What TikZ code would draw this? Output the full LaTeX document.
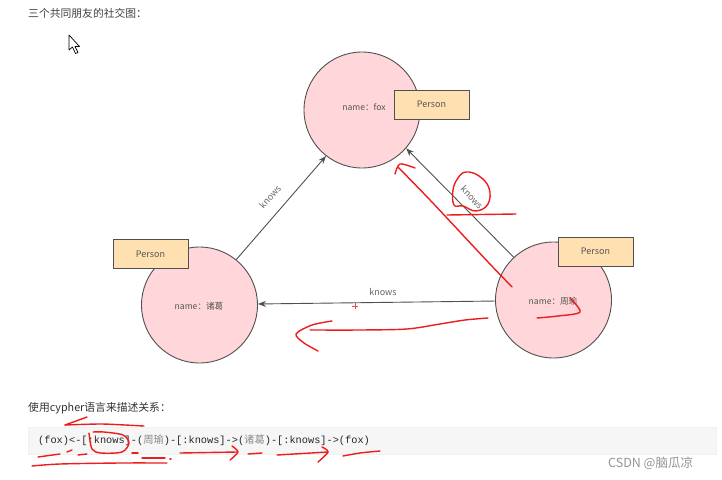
\documentclass[tikz,border=0pt]{standalone}
\usepackage{fontspec}
\setmainfont{Noto Sans CJK SC}
\newfontfamily\codefont{Liberation Mono}
\newfontfamily\cjkf{Noto Sans CJK SC}
\usetikzlibrary{arrows.meta}
\definecolor{pinkfill}{HTML}{FFD6D9}
\definecolor{peach}{HTML}{FFE0B0}
\definecolor{edgec}{HTML}{505050}
\definecolor{txtc}{HTML}{555555}
\definecolor{inkred}{HTML}{EE1C1C}
\definecolor{codebg}{HTML}{F6F6F6}
\tikzset{
  person/.style={circle, draw=edgec, fill=pinkfill, line width=0.9pt, minimum size=116pt, inner sep=0pt},
  tagbox/.style={rectangle, draw=edgec, fill=peach, line width=0.9pt, minimum width=75pt, minimum height=29pt, inner sep=0pt, font=\fontsize{9}{10}\selectfont, text=txtc},
  nametxt/.style={font=\fontsize{8.6}{10}\selectfont, text=txtc, inner sep=0pt},
  rel/.style={draw=edgec, line width=0.9pt, -{Stealth[length=8pt,width=6pt]}},
  rellabel/.style={font=\fontsize{9}{10}\selectfont, text=txtc!90, inner sep=1pt},
  ink/.style={draw=inkred, line width=1.4pt, line cap=round, line join=round},
  plain/.style={inner sep=0pt, anchor=west}
}
\begin{document}
\begin{tikzpicture}[x=1pt, y=-1pt]
\path[fill=white, use as bounding box] (0,0) rectangle (722,479);

% headings
\node[plain, font=\fontsize{10.8}{12}\selectfont, text=black!75] (title) at (28,13) {三个共同朋友的社交图：};
\node[plain, font=\fontsize{10.8}{12}\selectfont, text=black!80] (subtitle) at (28,408) {使用cypher语言来描述关系：};

% mouse cursor
\draw[black, fill=white, line width=0.7pt, line join=round] (69,35) -- (69,50) -- (72.5,47) -- (75.5,53.5) -- (78,52.5) -- (75,46.5) -- (79.5,46.5) -- cycle;

% people
\node[person] (fox) at (362,110) {};
\node[person] (zg) at (199.5,305) {};
\node[person] (zy) at (553.5,300) {};

\node[nametxt] (foxname) at (364,107) {name：fox};
\node[nametxt] (zgname) at (199,306) {name：诸葛};
\node[nametxt] (zyname) at (553,301) {name：周瑜};

\node[tagbox] (foxtag) at (431.5,104.5) {Person};
\node[tagbox] (zgtag) at (150.5,254) {Person};
\node[tagbox] (zytag) at (595.5,251.5) {Person};

% relations
\draw[rel] (zg.51) -- (fox.232);
\draw[rel] (zy.133) -- (fox.-41);
\draw[rel] (zy.181) -- (zg.1);
\node[rellabel, rotate=49] (k1) at (270,197) {knows};
\node[rellabel, rotate=-47] (k2) at (472,197) {knows};
\node[rellabel] (k3) at (383,292) {knows};

% code block
\node[rectangle, fill=codebg, draw=black!6, minimum width=688pt, minimum height=27pt, inner sep=0pt, anchor=north west] (codebox) at (28,427) {};
\node[plain, font=\codefont\fontsize{10.3}{12}\selectfont, text=black!85] (code) at (38,440.5)
  {(fox)<-[:knows]-({\cjkf\color{black!45}周瑜})-[:knows]->({\cjkf\color{black!45}诸葛})-[:knows]->(fox)};

% watermark
\node[plain, font=\fontsize{12.5}{14}\selectfont, text=black!42] (wm) at (608,463) {CSDN @脑瓜凉};

% red hand annotations
\draw[ink] plot[smooth] coordinates {(512,287) (488,262) (460,232) (430,200) (398,167)};
\draw[ink] plot[smooth] coordinates {(395,174) (400,164) (415,168)};
\draw[ink] plot[smooth cycle, tension=0.7] coordinates {(454,205) (453,190) (458,178) (466,172) (479,176) (489,188) (488,204) (476,211) (463,206)};
\draw[ink] (447,215) -- (516,214);

\draw[ink] plot[smooth] coordinates {(488,318) (465,320) (440,324) (407,329) (360,330) (310,330)};
\draw[ink] plot[smooth] coordinates {(332,321) (312,325) (296,334) (304,343) (318,351)};
\draw[inkred!80, line width=0.8pt] (352,306) -- (358,306) (355,303) -- (355,309);
\draw[ink] plot[smooth] coordinates {(537,318) (558,316) (580,312) (570,298)};

\draw[ink] plot[smooth] coordinates {(87,417) (65,425)};
\draw[ink] plot[smooth] coordinates {(65,425) (100,424) (125,425) (144,426)};
\draw[ink] plot[smooth] coordinates {(89,433) (92,449) (101,453) (122,452) (129,443) (123,435) (104,432) (93,432)};
\draw[ink] (38,457) -- (60,454);
\draw[ink] (67,452) -- (72,450);
\draw[ink] (78,455) -- (87,454);
\draw[ink] (132,453) -- (138,453);
\draw[ink] (142,458) -- (165,458);
\draw[ink] (170,459) -- (171,459);
\draw[ink] plot[smooth] coordinates {(32,466) (60,464) (120,463) (167,463)};
\draw[ink] (180,453) -- (237,452);
\draw[ink] plot[smooth] coordinates {(232,446) (238,452) (230,460)};
\draw[ink] (248,454) -- (262,453);
\draw[ink] (277,455) -- (328,452);
\draw[ink] plot[smooth] coordinates {(322,447) (328,452) (318,462)};
\draw[ink] plot[smooth] coordinates {(343,456) (360,453) (380,451)};
\end{tikzpicture}
\end{document}
